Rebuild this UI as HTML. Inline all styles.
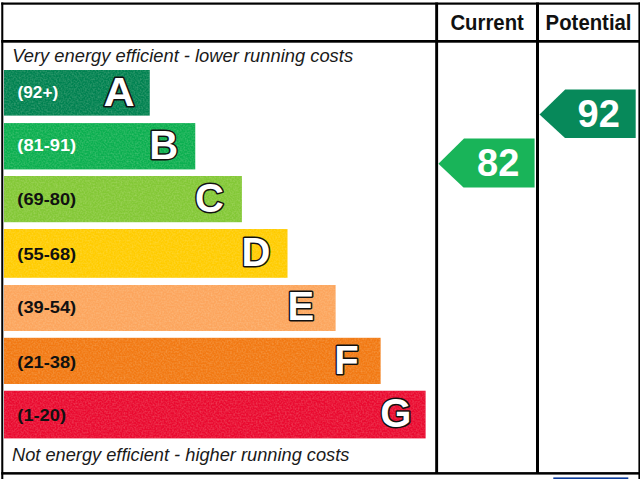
<!DOCTYPE html>
<html>
<head>
<meta charset="utf-8">
<title>Energy Efficiency Rating</title>
<style>
html,body{margin:0;padding:0;background:#fff;}
body{width:640px;height:479px;overflow:hidden;position:relative;font-family:"Liberation Sans",sans-serif;}
svg{position:absolute;left:0;top:0;display:block;}
text{font-family:"Liberation Sans",sans-serif;}
.hd{font-weight:bold;font-size:22px;fill:#111;}
.it{font-style:italic;font-size:17.6px;fill:#1a1a1a;}
.rg{font-weight:bold;font-size:17px;}
.lt{font-weight:bold;font-size:40px;fill:#fff;stroke:#111;stroke-width:3px;paint-order:stroke fill;stroke-linejoin:round;}
.nm{font-weight:bold;font-size:38px;fill:#fff;}
</style>
</head>
<body>
<svg width="640" height="479" viewBox="0 0 640 479">
  <rect x="0" y="0" width="640" height="479" fill="#ffffff"/>

  <defs>
    <filter id="dth" x="0" y="0" width="100%" height="100%" color-interpolation-filters="sRGB">
      <feTurbulence type="fractalNoise" baseFrequency="0.62" numOctaves="1" seed="7" result="t"/>
      <feColorMatrix in="t" type="matrix" values="0 0 0 0 1  0 0 0 0 1  0 0 0 0 0.9  0.42 0 0 0 -0.15" result="w"/>
      <feComposite in="w" in2="SourceGraphic" operator="in" result="wc"/>
      <feMerge><feMergeNode in="SourceGraphic"/><feMergeNode in="wc"/></feMerge>
    </filter>
  </defs>

  <!-- bars -->
  <g filter="url(#dth)">
  <rect x="4" y="70"     width="145.75" height="45.6"  fill="#008251"/>
  <rect x="4" y="123.1"  width="191.25" height="46.3"  fill="#0baf50"/>
  <rect x="4" y="176"    width="237.9"  height="46.2"  fill="#83c836"/>
  <rect x="4" y="229"    width="283.5"  height="48.8"  fill="#ffcc00"/>
  <rect x="4" y="285"    width="331.6"  height="46"    fill="#fca55d"/>
  <rect x="4" y="337.8"  width="376.6"  height="46.2"  fill="#f27913"/>
  <rect x="4" y="390.75" width="421.6"  height="47.65" fill="#ea0a30"/>
  </g>

  <!-- grid lines -->
  <g fill="#000">
    <rect x="1.25"  y="2.5"   width="2.05"  height="476.5"/>
    <rect x="638.4" y="2.5"   width="1.6"   height="476.5"/>
    <rect x="1.25"  y="2.5"   width="638.75" height="2.2"/>
    <rect x="1.25"  y="40"    width="638.75" height="2.7"/>
    <rect x="1.25"  y="472.1" width="638.75" height="2.5"/>
    <rect x="435.2" y="2.5"   width="2.9"   height="471"/>
    <rect x="536"   y="2.5"   width="3"     height="471"/>
  </g>

  <!-- EU flag sliver -->
  <rect x="553.3" y="477.4" width="75" height="1.6" fill="#0a3a9a"/>

  <!-- headers -->
  <text class="hd" transform="translate(450.4,29.6) scale(0.925,1)">Current</text>
  <text class="hd" transform="translate(545.6,29.6) scale(0.925,1)">Potential</text>

  <!-- captions -->
  <text class="it" transform="translate(12.2,61.7) scale(1.043,1)">Very energy efficient - lower running costs</text>
  <text class="it" transform="translate(12,460.5) scale(1.037,1)">Not energy efficient - higher running costs</text>

  <!-- range labels -->
  <text class="rg" transform="translate(17.6,97.6) scale(1.01,1)"   fill="#fff">(92+)</text>
  <text class="rg" transform="translate(17.3,151.4) scale(1.075,1)" fill="#fff">(81-91)</text>
  <text class="rg" transform="translate(17.3,205.4) scale(1.075,1)" fill="#111">(69-80)</text>
  <text class="rg" transform="translate(17.3,260) scale(1.075,1)"   fill="#111">(55-68)</text>
  <text class="rg" transform="translate(17.3,313) scale(1.075,1)"   fill="#111">(39-54)</text>
  <text class="rg" transform="translate(17.3,367.6) scale(1.075,1)" fill="#111">(21-38)</text>
  <text class="rg" transform="translate(17.3,420.6) scale(1.075,1)" fill="#111">(1-20)</text>

  <!-- letters -->
  <text class="lt" transform="translate(103.6,105.6) scale(1.08,1)">A</text>
  <text class="lt" x="149.3" y="158.6">B</text>
  <text class="lt" x="195"   y="212">C</text>
  <text class="lt" x="241.4" y="265.8">D</text>
  <text class="lt" x="287.4" y="320.2">E</text>
  <text class="lt" x="334.3" y="373.6">F</text>
  <text class="lt" x="380.3" y="426.5">G</text>

  <!-- arrows -->
  <polygon points="438.4,163.7 464,138.4 534.6,138.4 534.6,187.4 463.5,187.4" fill="#19b459"/>
  <polygon points="539.5,114.4 565.2,89.5 635.7,89.5 635.7,138.1 565,138.1" fill="#07895a"/>
  <text class="nm" x="477" y="176">82</text>
  <text class="nm" x="577.5" y="127.3">92</text>
</svg>
</body>
</html>
